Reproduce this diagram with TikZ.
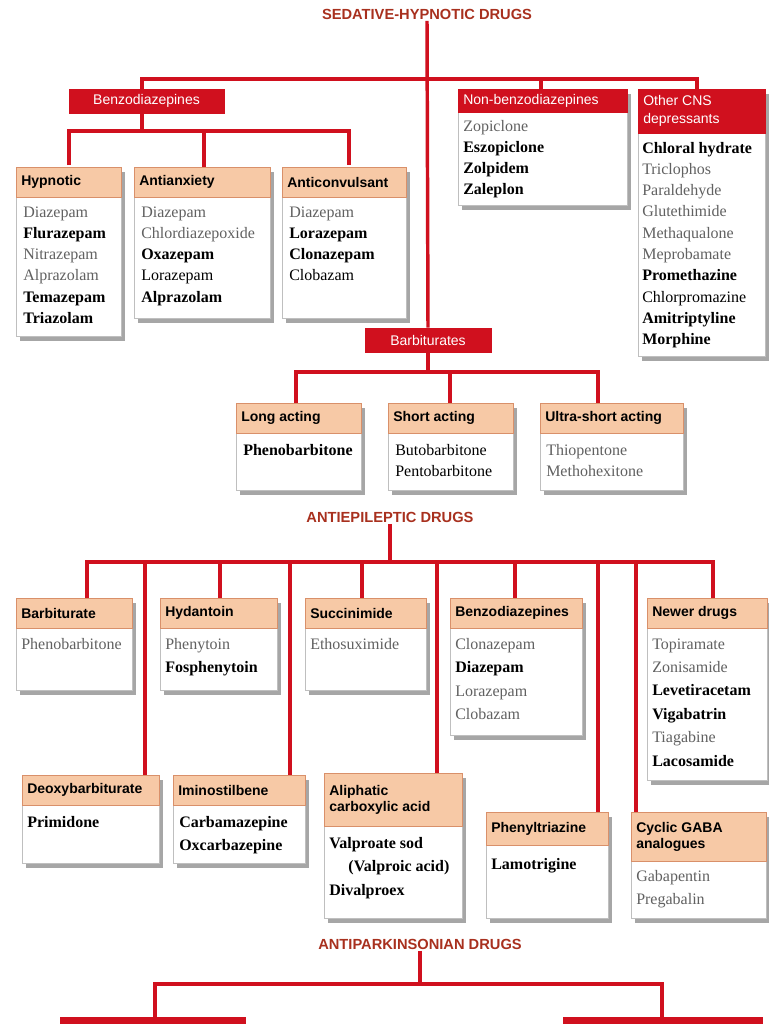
\documentclass[tikz,border=0pt]{standalone}
\usepackage{fontspec}
\setmainfont{Liberation Serif}
\setsansfont{Liberation Sans}
\usetikzlibrary{fit}
\definecolor{rd}{HTML}{D0101E}
\definecolor{ttl}{HTML}{A8301E}
\definecolor{peach}{HTML}{F7C9A6}
\definecolor{hl}{HTML}{D9906A}
\tikzset{x=0.75pt,y=-0.75pt,
 conn/.style={draw=rd,line width=2.6pt},
 boxline/.style={draw=black!25,line width=0.6pt,fill=white},
 peachhdr/.style={draw=hl,fill=peach,line width=0.6pt},
 redhdr/.style={draw=rd,fill=rd},
 hdrtxt/.style={font=\sffamily\bfseries\fontsize{10.5}{12}\selectfont,inner sep=0,align=left},
 whttxt/.style={font=\sffamily\fontsize{10.5}{13}\selectfont,text=white,inner sep=0,align=left},
 itm/.style={font=\fontsize{12}{14}\selectfont,inner sep=0,anchor=base west},
 ttlstyle/.style={font=\sffamily\bfseries\fontsize{11}{12}\selectfont,text=ttl,inner sep=1pt}}
\newcommand\g[1]{{\color{black!62}#1}}
% id, x1, x2, y1, yh, y2, header, header style, text style
\newcommand\dbox[9]{%
 \fill[black!35] (#2+4,#4+5) rectangle (#3+4,#6+5);
 \path[boxline] (#2,#4) rectangle (#3,#6);
 \node[fit={(#2,#4)(#3,#5)},inner sep=0,#8] (#1) {};
 \node[#9,anchor=west] at (#2+5,{(#4+#5)/2}) {#7};}
\newcommand\items[4]{\foreach \t [count=\i] in {#4}{\node[itm] at (#1,{#2+5+(\i-1)*#3}) {\t};}}
\begin{document}
\begin{tikzpicture}
\useasboundingbox (0,0) rectangle (768,1024);
% ===== SEDATIVE-HYPNOTIC =====
\node[ttlstyle] (t1) at (427,14) {SEDATIVE-HYPNOTIC DRUGS};
\node[redhdr,fit={(69,89)(224,113)},inner sep=0] (benzo) {};
\node[whttxt] at (benzo) {Benzodiazepines};
\dbox{nonb}{458}{627}{89}{112}{205}{Non-benzodiazepines}{redhdr}{whttxt}
\dbox{oth}{638}{765}{89}{133}{356}{Other CNS\\depressants}{redhdr}{whttxt}
\dbox{hyp}{16}{121}{167}{197}{336}{Hypnotic}{peachhdr}{hdrtxt}
\dbox{anx}{134}{270}{167}{197}{318}{Antianxiety}{peachhdr}{hdrtxt}
\dbox{acv}{282}{406}{167}{197}{318}{Anticonvulsant}{peachhdr}{hdrtxt}
\node[redhdr,fit={(365,328)(491,352)},inner sep=0] (barb) {};
\node[whttxt] at (barb) {Barbiturates};
\coordinate (b1) at (427,79);
\draw[conn] (t1.south) -- (barb.north);
\draw[conn] (142,89) |- (b1) -| (697,89);
\draw[conn] (b1) -| (541,89);
\draw[conn] (142,113) -- (142,131);
\draw[conn] (69,165) |- (142,131) -| (349,165);
\draw[conn] (204,131) -- (204,167);
\items{23}{212}{21.3}{\g{Diazepam},\textbf{Flurazepam},\g{Nitrazepam},\g{Alprazolam},\textbf{Temazepam},\textbf{Triazolam}}
\items{141}{212}{21.3}{\g{Diazepam},\g{Chlordiazepoxide},\textbf{Oxazepam},Lorazepam,\textbf{Alprazolam}}
\items{289}{212}{21.3}{\g{Diazepam},\textbf{Lorazepam},\textbf{Clonazepam},Clobazam}
\items{463}{126}{21}{\g{Zopiclone},\textbf{Eszopiclone},\textbf{Zolpidem},\textbf{Zaleplon}}
\items{642}{148}{21.3}{\textbf{Chloral hydrate},\g{Triclophos},\g{Paraldehyde},\g{Glutethimide},\g{Methaqualone},\g{Meprobamate},\textbf{Promethazine},Chlorpromazine,\textbf{Amitriptyline},\textbf{Morphine}}
% barbiturate subtypes
\dbox{long}{236}{361}{403}{433}{490}{Long acting}{peachhdr}{hdrtxt}
\dbox{short}{388}{513}{403}{433}{490}{Short acting}{peachhdr}{hdrtxt}
\dbox{ultra}{540}{683}{403}{433}{490}{Ultra-short acting}{peachhdr}{hdrtxt}
\draw[conn] (barb.south) -- (428,372);
\draw[conn] (296,403) |- (428,372) -| (598,403);
\draw[conn] (450,372) -- (450,403);
\items{243}{450}{21}{\textbf{Phenobarbitone}}
\items{395}{450}{21}{Butobarbitone,Pentobarbitone}
\items{546}{450}{21}{\g{Thiopentone},\g{Methohexitone}}
% ===== ANTIEPILEPTIC =====
\node[ttlstyle] (t2) at (390,517) {ANTIEPILEPTIC DRUGS};
\dbox{ebar}{16}{132}{598}{628}{690}{Barbiturate}{peachhdr}{hdrtxt}
\dbox{hyd}{160}{277}{598}{628}{690}{Hydantoin}{peachhdr}{hdrtxt}
\dbox{suc}{305}{426}{598}{628}{690}{Succinimide}{peachhdr}{hdrtxt}
\dbox{ebz}{450}{582}{598}{628}{735}{Benzodiazepines}{peachhdr}{hdrtxt}
\dbox{new}{647}{767}{598}{628}{780}{Newer drugs}{peachhdr}{hdrtxt}
\dbox{deo}{22}{159}{775}{805}{863}{Deoxybarbiturate}{peachhdr}{hdrtxt}
\dbox{imi}{173}{305}{775}{805}{863}{Iminostilbene}{peachhdr}{hdrtxt}
\dbox{ali}{324}{462}{773}{826}{918}{Aliphatic\\carboxylic acid}{peachhdr}{hdrtxt}
\dbox{phe}{486}{608}{812}{845}{918}{Phenyltriazine}{peachhdr}{hdrtxt}
\dbox{cyc}{631}{766}{812}{861}{918}{Cyclic GABA\\analogues}{peachhdr}{hdrtxt}
\coordinate (b2) at (390,562);
\draw[conn] (t2.south) -- (b2);
\draw[conn] (ebar.north -| 87,0) |- (b2) -| (new.north -| 713,0);
\foreach \xx/\nd in {145/deo,220/hyd,290/imi,362/suc,437/ali,515/ebz,598/phe,636/cyc}
  \draw[conn] (\xx,562) -- (\nd.north -| \xx,0);
\items{21}{644}{23.5}{\g{Phenobarbitone}}
\items{165}{644}{23.5}{\g{Phenytoin},\textbf{Fosphenytoin}}
\items{310}{644}{23.5}{\g{Ethosuximide}}
\items{455}{644}{23.5}{\g{Clonazepam},\textbf{Diazepam},\g{Lorazepam},\g{Clobazam}}
\items{652}{644}{23.4}{\g{Topiramate},\g{Zonisamide},\textbf{Levetiracetam},\textbf{Vigabatrin},\g{Tiagabine},\textbf{Lacosamide}}
\items{27}{822}{23}{\textbf{Primidone}}
\items{179}{822}{23}{\textbf{Carbamazepine},\textbf{Oxcarbazepine}}
\items{329}{843}{23.5}{\textbf{Valproate sod},\hspace{1.2em}\textbf{(Valproic acid)},\textbf{Divalproex}}
\items{491}{864}{23}{\textbf{Lamotrigine}}
\items{636}{876}{23}{\g{Gabapentin},\g{Pregabalin}}
% ===== ANTIPARKINSONIAN =====
\node[ttlstyle] (t3) at (420,944) {ANTIPARKINSONIAN DRUGS};
\node[redhdr,fit={(60,1017)(245,1030)},inner sep=0] (p1) {};
\node[redhdr,fit={(563,1017)(762,1030)},inner sep=0] (p2) {};
\coordinate (b3) at (420,984);
\draw[conn] (t3.south) -- (b3);
\draw[conn] (p1.north -| 155,0) |- (b3) -| (p2.north -| 662,0);
\end{tikzpicture}
\end{document}
